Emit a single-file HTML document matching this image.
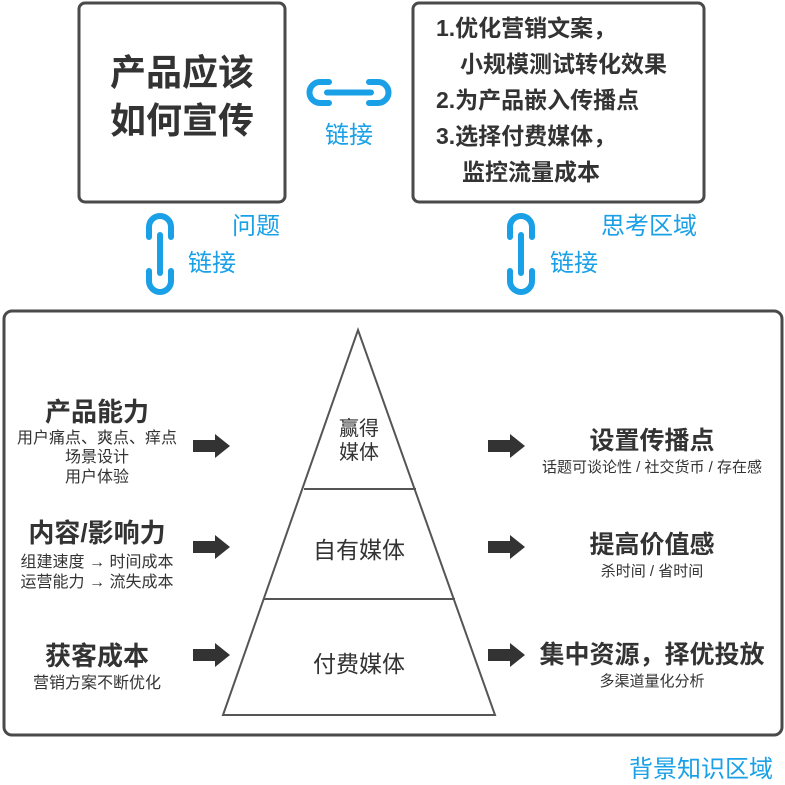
<!DOCTYPE html>
<html><head><meta charset="utf-8"><style>
body{margin:0;background:#fff;width:785px;height:780px;overflow:hidden}
text{font-family:"Liberation Sans","Noto Sans CJK SC",sans-serif}
</style></head><body>
<svg width="785" height="780" viewBox="0 0 785 780" xmlns="http://www.w3.org/2000/svg">
<defs>
<g id="hchain" fill="none" stroke="#1aa0e6" stroke-linecap="round">
<path d="M22 4 H13 A10.5 10.5 0 0 0 13 25 H22" stroke-width="6"/>
<path d="M62 4 H71 A10.5 10.5 0 0 1 71 25 H62" stroke-width="6"/>
<line x1="20" y1="14.5" x2="64" y2="14.5" stroke-width="6"/>
</g>
<g id="vchain" fill="none" stroke="#1aa0e6" stroke-linecap="round">
<path d="M4 24 V14 A11 11 0 0 1 26 14 V24" stroke-width="6"/>
<path d="M4 58 V68 A11 11 0 0 0 26 68 V58" stroke-width="6"/>
<line x1="15" y1="22" x2="15" y2="60" stroke-width="6"/>
</g>
<g id="arrow" fill="#333"><path d="M0 -6 H22 V-12 L37 0 L22 12 V6 H0 Z"/></g>
</defs>
<g fill="none" stroke="#4a4a4a" stroke-width="3">
<rect x="79" y="3" width="206" height="199" rx="6"/>
<rect x="413" y="3" width="291" height="199" rx="6"/>
<rect x="4" y="311" width="778" height="424" rx="8"/>
</g>
<g font-weight="bold" fill="#333" font-size="36" text-anchor="middle">
<text x="182" y="85">产品应该</text>
<text x="182" y="133">如何宣传</text>
</g>
<g font-weight="bold" fill="#333" font-size="23">
<text x="436" y="36">1.优化营销文案，</text>
<text x="460" y="72">小规模测试转化效果</text>
<text x="436" y="108">2.为产品嵌入传播点</text>
<text x="436" y="144">3.选择付费媒体，</text>
<text x="462" y="180">监控流量成本</text>
</g>
<use href="#hchain" x="307" y="78"/>
<use href="#vchain" x="145" y="213"/>
<use href="#vchain" x="506" y="213"/>
<g fill="#1aa0e6" font-size="24">
<text x="325" y="143">链接</text>
<text x="232" y="234">问题</text>
<text x="188" y="271">链接</text>
<text x="601" y="234">思考区域</text>
<text x="550" y="271">链接</text>
<text x="629" y="777">背景知识区域</text>
</g>
<g fill="none" stroke="#555" stroke-width="2">
<path d="M223 715 L358 330 L495 715 Z"/>
<line x1="304" y1="489" x2="416" y2="489"/>
<line x1="264" y1="599" x2="455" y2="599"/>
</g>
<g fill="#333" text-anchor="middle">
<text x="359" y="435" font-size="20">赢得</text>
<text x="359" y="459" font-size="20">媒体</text>
<text x="359" y="558" font-size="23">自有媒体</text>
<text x="359" y="672" font-size="23">付费媒体</text>
<text x="97" y="421" font-size="26" font-weight="bold">产品能力</text>
<text x="97" y="443" font-size="16">用户痛点、爽点、痒点</text>
<text x="97" y="462" font-size="16">场景设计</text>
<text x="97" y="482" font-size="16">用户体验</text>
<text x="97" y="542" font-size="26" font-weight="bold">内容/影响力</text>
<text x="97" y="567" font-size="16">组建速度 → 时间成本</text>
<text x="97" y="587" font-size="16">运营能力 → 流失成本</text>
<text x="97" y="665" font-size="26" font-weight="bold">获客成本</text>
<text x="97" y="688" font-size="16">营销方案不断优化</text>
<text x="652" y="449" font-size="25" font-weight="bold">设置传播点</text>
<text x="652" y="472" font-size="15">话题可谈论性 / 社交货币 / 存在感</text>
<text x="652" y="553" font-size="25" font-weight="bold">提高价值感</text>
<text x="652" y="576" font-size="15">杀时间 / 省时间</text>
<text x="652" y="663" font-size="25" font-weight="bold">集中资源，择优投放</text>
<text x="652" y="686" font-size="15">多渠道量化分析</text>
</g>
<use href="#arrow" x="193" y="446"/>
<use href="#arrow" x="193" y="547"/>
<use href="#arrow" x="193" y="655"/>
<use href="#arrow" x="488" y="446"/>
<use href="#arrow" x="488" y="547"/>
<use href="#arrow" x="488" y="655"/>
</svg>
</body></html>
